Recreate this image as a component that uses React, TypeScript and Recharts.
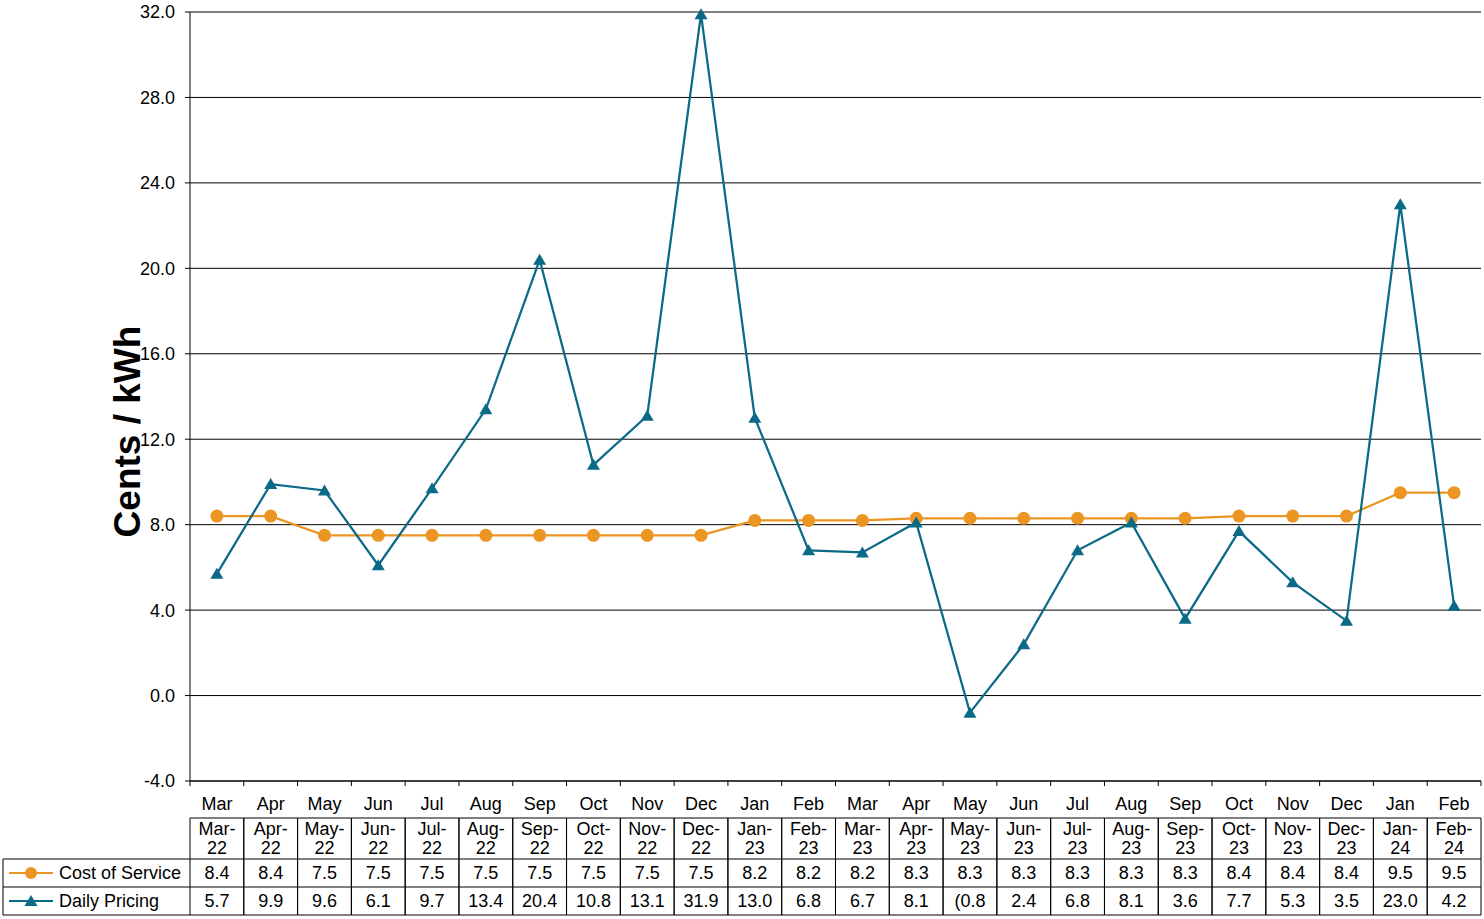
import { LineChart, Line, XAxis, YAxis, CartesianGrid } from 'recharts';

const months = ['Mar', 'Apr', 'May', 'Jun', 'Jul', 'Aug', 'Sep', 'Oct', 'Nov', 'Dec', 'Jan', 'Feb',
  'Mar', 'Apr', 'May', 'Jun', 'Jul', 'Aug', 'Sep', 'Oct', 'Nov', 'Dec', 'Jan', 'Feb'];
const periods = ['Mar-22', 'Apr-22', 'May-22', 'Jun-22', 'Jul-22', 'Aug-22', 'Sep-22', 'Oct-22', 'Nov-22', 'Dec-22',
  'Jan-23', 'Feb-23', 'Mar-23', 'Apr-23', 'May-23', 'Jun-23', 'Jul-23', 'Aug-23', 'Sep-23', 'Oct-23', 'Nov-23',
  'Dec-23', 'Jan-24', 'Feb-24'];
const costOfService = [8.4, 8.4, 7.5, 7.5, 7.5, 7.5, 7.5, 7.5, 7.5, 7.5, 8.2, 8.2, 8.2, 8.3, 8.3, 8.3, 8.3, 8.3,
  8.3, 8.4, 8.4, 8.4, 9.5, 9.5];
const dailyPricing = [5.7, 9.9, 9.6, 6.1, 9.7, 13.4, 20.4, 10.8, 13.1, 31.9, 13.0, 6.8, 6.7, 8.1, -0.8, 2.4, 6.8,
  8.1, 3.6, 7.7, 5.3, 3.5, 23.0, 4.2];
const yTicks = [-4, 0, 4, 8, 12, 16, 20, 24, 28, 32];

const ORANGE = '#EB9523';
const TEAL = '#0B6A87';
const FONT = '"Liberation Sans", Arial, sans-serif';

const CHART_W = 1484;
const CHART_H = 919;
const MARGIN = { top: 12, right: 3, bottom: 0, left: 130 };
const Y_AXIS_W = 60;
const X_AXIS_H = 138;
const PLOT_LEFT = MARGIN.left + Y_AXIS_W;
const PLOT_BOTTOM = CHART_H - MARGIN.bottom - X_AXIS_H;
const BAND = (CHART_W - PLOT_LEFT - MARGIN.right) / months.length;

// rows of the data table, measured down from the plot bottom
const ROW_MONTH = 23;
const TABLE_TOP = 37;
const COST_TOP = 78;
const DAILY_TOP = 106;
const TABLE_BOTTOM = 134;
const LEGEND_LEFT = 3;

const chartData = months.map((m, i) => ({
  month: m,
  period: periods[i],
  cost: costOfService[i],
  daily: dailyPricing[i],
}));

// Excel cuts off the closing parenthesis of the negative value
const fmtCell = (v: number) => (v < 0 ? `(${Math.abs(v).toFixed(1)}` : v.toFixed(1));

const Triangle = ({ cx, cy, fill }: { cx: number; cy: number; fill: string }) => (
  <path d={`M${cx},${cy - 6} L${cx + 6.5},${cy + 5} L${cx - 6.5},${cy + 5} Z`} fill={fill} />
);

const TriangleDot = (props: any) => {
  const { cx, cy, index } = props;
  if (cx == null || cy == null) return <g key={index} />;
  return <Triangle key={index} cx={cx} cy={cy} fill={TEAL} />;
};

const CircleDot = (props: any) => {
  const { cx, cy, index } = props;
  if (cx == null || cy == null) return <g key={index} />;
  return <circle key={index} cx={cx} cy={cy} r={6.5} fill={ORANGE} />;
};

const textStyle = { fontFamily: FONT, fontSize: 18, fill: '#000' };

const TableTick = (props: any) => {
  const { x, index } = props;
  const row = chartData[index];
  if (!row || x == null) return <g />;
  const B = PLOT_BOTTOM;
  const l = x - BAND / 2;
  const r = x + BAND / 2;
  const [p1, p2] = row.period.split('-');
  const last = index === chartData.length - 1;

  return (
    <g>
      {/* boundary tick marks under the axis */}
      <line x1={l} x2={l} y1={B} y2={B + 5} stroke="#000" />
      {last && <line x1={r} x2={r} y1={B} y2={B + 5} stroke="#000" />}

      <text x={x} y={B + ROW_MONTH} textAnchor="middle" dominantBaseline="central" style={textStyle}>{row.month}</text>
      <text x={x} y={B + 48} textAnchor="middle" dominantBaseline="central" style={textStyle}>{p1 + '-'}</text>
      <text x={x} y={B + 67} textAnchor="middle" dominantBaseline="central" style={textStyle}>{p2}</text>
      <text x={x} y={B + (COST_TOP + DAILY_TOP) / 2} textAnchor="middle" dominantBaseline="central" style={textStyle}>
        {fmtCell(row.cost)}
      </text>
      <text x={x} y={B + (DAILY_TOP + TABLE_BOTTOM) / 2} textAnchor="middle" dominantBaseline="central" style={textStyle}>
        {fmtCell(row.daily)}
      </text>

      {/* cell borders */}
      <line x1={l} x2={l} y1={B + TABLE_TOP} y2={B + TABLE_BOTTOM} stroke="#000" />
      <line x1={r} x2={r} y1={B + TABLE_TOP} y2={B + TABLE_BOTTOM} stroke="#000" />
      {[TABLE_TOP, COST_TOP, DAILY_TOP, TABLE_BOTTOM].map((t) => (
        <line key={t} x1={l} x2={r} y1={B + t} y2={B + t} stroke="#000" />
      ))}

      {index === 0 && (
        <g>
          <line x1={LEGEND_LEFT} x2={l} y1={B + COST_TOP} y2={B + COST_TOP} stroke="#000" />
          <line x1={LEGEND_LEFT} x2={l} y1={B + DAILY_TOP} y2={B + DAILY_TOP} stroke="#000" />
          <line x1={LEGEND_LEFT} x2={l} y1={B + TABLE_BOTTOM} y2={B + TABLE_BOTTOM} stroke="#000" />
          <line x1={LEGEND_LEFT} x2={LEGEND_LEFT} y1={B + COST_TOP} y2={B + TABLE_BOTTOM} stroke="#000" />

          <line x1={9} x2={53} y1={B + 92} y2={B + 92} stroke={ORANGE} strokeWidth={2} />
          <circle cx={31} cy={B + 92} r={6} fill={ORANGE} />
          <text x={59} y={B + 92} dominantBaseline="central" style={textStyle}>Cost of Service</text>

          <line x1={9} x2={53} y1={B + 120} y2={B + 120} stroke={TEAL} strokeWidth={2} />
          <Triangle cx={31} cy={B + 120} fill={TEAL} />
          <text x={59} y={B + 120} dominantBaseline="central" style={textStyle}>Daily Pricing</text>
        </g>
      )}
    </g>
  );
};

const AxisTitle = (props: any) => {
  const { viewBox } = props;
  if (!viewBox) return null;
  const cx = viewBox.x - 3;
  const cy = viewBox.y + viewBox.height / 2 + 35;
  return (
    <text
      x={cx}
      y={cy}
      transform={`rotate(-90 ${cx} ${cy})`}
      textAnchor="middle"
      dominantBaseline="central"
      style={{ fontFamily: FONT, fontSize: 37, fontWeight: 'bold', fill: '#000' }}
    >
      Cents / kWh
    </text>
  );
};

export default function App() {
  return (
    <div style={{ position: 'absolute', left: 0, top: 0, width: CHART_W, height: CHART_H, background: '#fff' }}>
      <LineChart width={CHART_W} height={CHART_H} data={chartData} margin={MARGIN}>
        <CartesianGrid vertical={false} stroke="#000" strokeWidth={1} />
        <XAxis
          dataKey="period"
          interval={0}
          height={X_AXIS_H}
          padding={{ left: BAND / 2, right: BAND / 2 }}
          axisLine={{ stroke: '#000' }}
          tickLine={false}
          tick={(p: any) => <TableTick {...p} />}
        />
        <YAxis
          domain={[-4, 32]}
          ticks={yTicks}
          width={Y_AXIS_W}
          interval={0}
          axisLine={{ stroke: '#000' }}
          tickLine={{ stroke: '#000' }}
          tickSize={5}
          tickMargin={10}
          tickFormatter={(v: number) => v.toFixed(1)}
          tick={{ fill: '#000', fontSize: 18, fontFamily: FONT }}
          label={<AxisTitle />}
        />
        <Line
          dataKey="cost"
          stroke={ORANGE}
          strokeWidth={2.25}
          dot={(p: any) => <CircleDot key={p.index} {...p} />}
          activeDot={false}
          isAnimationActive={false}
        />
        <Line
          dataKey="daily"
          stroke={TEAL}
          strokeWidth={2.25}
          dot={(p: any) => <TriangleDot key={p.index} {...p} />}
          activeDot={false}
          isAnimationActive={false}
        />
      </LineChart>
    </div>
  );
}
